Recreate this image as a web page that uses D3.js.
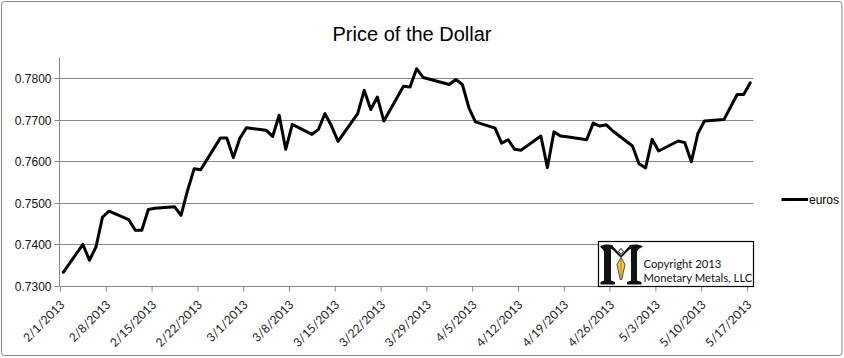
<!DOCTYPE html>
<html>
<head>
<meta charset="utf-8">
<script src="https://cdn.jsdelivr.net/npm/d3@7"></script>
<style>
  html, body { margin: 0; padding: 0; background: #fff; }
  svg { display: block; }
</style>
</head>
<body>
<svg id="chart" width="844" height="358"></svg>
<script>
// ---- data ----
const title = "Price of the Dollar";
const seriesName = "euros";
const dates = [
  "2013-02-01","2013-02-04","2013-02-05","2013-02-06","2013-02-07","2013-02-08",
  "2013-02-11","2013-02-12","2013-02-13","2013-02-14","2013-02-15",
  "2013-02-18","2013-02-19","2013-02-20","2013-02-21","2013-02-22",
  "2013-02-25","2013-02-26","2013-02-27","2013-02-28","2013-03-01",
  "2013-03-04","2013-03-05","2013-03-06","2013-03-07","2013-03-08",
  "2013-03-11","2013-03-12","2013-03-13","2013-03-14","2013-03-15",
  "2013-03-18","2013-03-19","2013-03-20","2013-03-21","2013-03-22",
  "2013-03-25","2013-03-26","2013-03-27","2013-03-28",
  "2013-04-01","2013-04-02","2013-04-03","2013-04-04","2013-04-05",
  "2013-04-08","2013-04-09","2013-04-10","2013-04-11","2013-04-12",
  "2013-04-15","2013-04-16","2013-04-17","2013-04-18","2013-04-19",
  "2013-04-22","2013-04-23","2013-04-24","2013-04-25","2013-04-26",
  "2013-04-29","2013-04-30","2013-05-01","2013-05-02","2013-05-03",
  "2013-05-06","2013-05-07","2013-05-08","2013-05-09","2013-05-10",
  "2013-05-13","2013-05-14","2013-05-15","2013-05-16","2013-05-17"
];
const euros = [
  0.7333,0.7400,0.7362,0.7394,0.7466,0.7480,
  0.7460,0.7434,0.7434,0.7484,0.7487,
  0.7491,0.7470,0.7530,0.7582,0.7580,
  0.7656,0.7656,0.7609,0.7656,0.7681,
  0.7675,0.7660,0.7711,0.7629,0.7689,
  0.7665,0.7677,0.7715,0.7685,0.7648,
  0.7715,0.7771,0.7725,0.7755,0.7697,
  0.7781,0.7779,0.7823,0.7802,
  0.7785,0.7797,0.7785,0.7729,0.7695,
  0.7680,0.7644,0.7652,0.7629,0.7627,
  0.7661,0.7585,0.7671,0.7661,0.7659,
  0.7652,0.7692,0.7685,0.7688,0.7673,
  0.7637,0.7594,0.7584,0.7653,0.7625,
  0.7649,0.7645,0.7599,0.7667,0.7697,
  0.7701,0.7731,0.7761,0.7761,0.7789
];
const yTicks = [0.73, 0.74, 0.75, 0.76, 0.77, 0.78];
const xTickDates = ["2013-02-01","2013-02-08","2013-02-15","2013-02-22","2013-03-01","2013-03-08",
  "2013-03-15","2013-03-22","2013-03-29","2013-04-05","2013-04-12","2013-04-19",
  "2013-04-26","2013-05-03","2013-05-10","2013-05-17"];
const xDomain = ["2013-02-01","2013-05-18"];
const yDomain = [0.73, 0.785];
const logoLines = ["Copyright 2013", "Monetary Metals, LLC"];

// ---- drawing ----
const parse = d3.utcParse("%Y-%m-%d");
const fmtTick = d => (d.getUTCMonth()+1) + "/" + d.getUTCDate() + "/" + d.getUTCFullYear();
const svg = d3.select("#chart");

const plot = { left: 60, right: 753.5, top: 57.5, bottom: 286 };

// outer border
svg.append("rect").attr("x", 1.5).attr("y", 1.5).attr("width", 840.5).attr("height", 354)
  .attr("rx", 3).attr("fill", "#fff").attr("stroke", "#868686").attr("stroke-width", 1);

const x = d3.scaleUtc().domain(xDomain.map(parse)).range([plot.left, plot.right]);
const y = d3.scaleLinear().domain(yDomain).range([plot.bottom, plot.top]);

// gridlines
svg.append("g").selectAll("line").data(yTicks.slice(1)).join("line")
  .attr("x1", plot.left).attr("x2", plot.right)
  .attr("y1", d => Math.round(y(d)) + 0.5).attr("y2", d => Math.round(y(d)) + 0.5)
  .attr("stroke", "#868686").attr("stroke-width", 1);

// y axis
const yAxis = d3.axisLeft(y).tickValues(yTicks).tickFormat(d3.format(".4f")).tickSize(5).tickPadding(3);
const gy = svg.append("g").attr("transform", `translate(${plot.left - 0.5},0)`).call(yAxis);
gy.select(".domain").attr("stroke", "#868686").attr("d", `M0,${plot.top}V${plot.bottom}`);
gy.selectAll(".tick line").attr("stroke", "#868686");
gy.selectAll(".tick").attr("transform", d => `translate(0,${Math.round(y(d)) + 0.5})`);
gy.selectAll("text").attr("font-family", "'Liberation Sans', Arial, sans-serif")
  .attr("font-size", 12).attr("fill", "#111").attr("dy", "0.35em");

// x axis
const xAxis = d3.axisBottom(x).tickValues(xTickDates.map(parse)).tickFormat(fmtTick).tickSize(5).tickPadding(3);
const gx = svg.append("g").attr("transform", `translate(0,${Math.round(plot.bottom) + 0.5})`).call(xAxis);
gx.select(".domain").attr("stroke", "#868686").attr("d", `M${plot.left - 0.5},0H${plot.right}`);
gx.selectAll(".tick line").attr("stroke", "#868686");
gx.selectAll("text")
  .attr("font-family", "Lato, 'Open Sans', sans-serif").attr("font-size", 12).attr("fill", "#222")
  .attr("text-anchor", "end").attr("dy", null).attr("y", 0)
  .attr("transform", "translate(5,19) rotate(-45)");

// line
const pts = dates.map((d, i) => ({ t: d3.utcHour.offset(parse(d), 12), v: euros[i] }));
const line = d3.line().x(d => x(d.t)).y(d => y(d.v));
svg.append("path").datum(pts).attr("d", line)
  .attr("fill", "none").attr("stroke", "#000").attr("stroke-width", 3)
  .attr("stroke-linejoin", "round").attr("stroke-linecap", "round");

// title
svg.append("text").attr("x", 412).attr("y", 41).attr("text-anchor", "middle")
  .attr("font-family", "'Liberation Sans', Arial, sans-serif").attr("font-size", 20)
  .attr("fill", "#000").text(title);

// legend
svg.append("line").attr("x1", 781.5).attr("x2", 808).attr("y1", 199.5).attr("y2", 199.5)
  .attr("stroke", "#000").attr("stroke-width", 3);
svg.append("text").attr("x", 809).attr("y", 203.5)
  .attr("font-family", "'Liberation Sans', Arial, sans-serif").attr("font-size", 12)
  .attr("fill", "#000").text(seriesName);

// logo box
const logo = svg.append("g").attr("transform", "translate(598.5,241.5)");
logo.append("rect").attr("width", 155).attr("height", 45).attr("fill", "#fff")
  .attr("stroke", "#000").attr("stroke-width", 1.2);
const m = logo.append("g").attr("transform", "translate(1.5,2)");
// left stem with serifs and top swash
m.append("path").attr("fill", "#111").attr("d",
  "M0,3 C4,0.5 9,0.5 13,2 L11,6 L11,37 L15,38.5 L15,41 L0.5,41 L0.5,38.5 L4,37 L4,8 C3,6 1.5,4.5 0,3 Z");
// right stem
m.append("path").attr("fill", "#111").attr("d",
  "M43,3 C39,0.5 33,0.5 29,2 L31,6 L31,37 L27,38.5 L27,41 L41.5,41 L41.5,38.5 L37,37 L37,8 C38,6 40,4.5 43,3 Z");
// top arches converging to center
m.append("path").attr("fill", "#111")
  .attr("d", "M11,1.5 C15,4 18,9 21,12 C24,9 27,4 31,1.5 L31,5 C27,8 24,12 21,14 C18,12 15,8 11,5 Z");
// diamond
m.append("path").attr("fill", "#fff").attr("stroke", "#111").attr("stroke-width", 1)
  .attr("d", "M21,5 L23.5,8 L21,11 L18.5,8 Z");
// pendant
m.append("path").attr("fill", "#f2cf3a").attr("stroke", "#222").attr("stroke-width", 0.8)
  .attr("d", "M21,14 L25,21 L21.8,36 L20.2,36 L17,21 Z");
m.append("path").attr("fill", "none").attr("stroke", "#6b5a10").attr("stroke-width", 0.6)
  .attr("d", "M21,14 L21,36");
logo.selectAll("text.l").data(logoLines).join("text").attr("class", "l")
  .attr("x", 45).attr("y", (d, i) => 26 + i * 14)
  .attr("font-family", "Lato, 'Open Sans', sans-serif").attr("font-size", 11.3)
  .attr("fill", "#111").text(d => d);
</script>
</body>
</html>
